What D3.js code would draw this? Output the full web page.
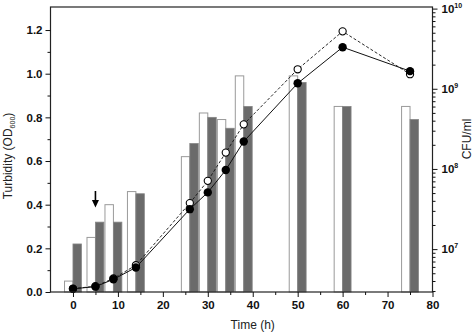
<!doctype html>
<html>
  <head>
    <meta charset="UTF-8"/>
    <title>Growth curve</title>
    <script src="https://d3js.org/d3.v7.min.js"></script>
    <style>
      body { margin: 0; padding: 0; background: #fff; }
      svg { display: block; }
      .tick text { font-family: "Liberation Sans", Arial, sans-serif; font-weight: bold; font-size: 11.5px; fill: #111; }
      .title { font-family: "Liberation Sans", Arial, sans-serif; font-size: 12px; fill: #222; }
    </style>
  </head>
  <body>
    <script>
      // sampling times (h)
      const times = [0, 5, 9, 14, 26, 30, 34, 38, 50, 60, 75];
      // turbidity OD600, open and shaded bars
      const odOpen   = [0.05, 0.25, 0.40, 0.46, 0.62, 0.82, 0.79, 0.99, 0.99, 0.85, 0.85];
      const odShaded = [0.22, 0.32, 0.32, 0.45, 0.68, 0.80, 0.75, 0.85, 0.96, 0.85, 0.79];
      // viable counts CFU/ml
      const cfuFilled = [3.2e6, 3.4e6, 4.2e6, 5.9e6, 3.15e7, 5.1e7, 9.7e7, 2.2e8, 1.17e9, 3.3e9, 1.66e9];
      const cfuOpen   = [3.2e6, 3.45e6, 4.3e6, 6.3e6, 3.75e7, 7.1e7, 1.6e8, 3.6e8, 1.75e9, 5.2e9, 1.52e9];
      const odTicks = [0, 0.2, 0.4, 0.6, 0.8, 1.0, 1.2];
      const odMinor = [0.1, 0.3, 0.5, 0.7, 0.9, 1.1];
      const timeTicks = [0, 10, 20, 30, 40, 50, 60, 70, 80];
      const timeMinor = [5, 15, 25, 35, 45, 55, 65, 75];
      const cfuTicks = [1e7, 1e8, 1e9, 1e10];
      const arrowAt = 5;

      const W = 474, H = 333;
      const L = 50.5, R = 432.5, T = 7, B = 292;
      const svg = d3.select("body").append("svg").attr("width", W).attr("height", H);

      const x = d3.scaleLinear().domain([-5, 80]).range([L, R]);
      const y = d3.scaleLinear().domain([0, 1.3055]).range([B, T]);
      const yR = d3.scaleLog().domain([Math.pow(10, 6.465), Math.pow(10, 10.02)]).range([B, T]);

      const bw = 1.88;
      const bars = svg.append("g");
      bars.selectAll(".open").data(times).join("rect")
        .attr("x", (d) => x(d - bw))
        .attr("width", x(bw) - x(0))
        .attr("y", (d, i) => y(odOpen[i]))
        .attr("height", (d, i) => B - y(odOpen[i]))
        .attr("fill", "#fff").attr("stroke", "#9a9a9a").attr("stroke-width", 1);
      bars.selectAll(".shaded").data(times).join("rect")
        .attr("x", (d) => x(d))
        .attr("width", x(bw) - x(0))
        .attr("y", (d, i) => y(odShaded[i]))
        .attr("height", (d, i) => B - y(odShaded[i]))
        .attr("fill", "#6b6b6b").attr("stroke", "#858585").attr("stroke-width", 0.8);

      // CFU curves
      const line = (vals) => d3.line().x((d, i) => x(times[i])).y((d) => yR(d))(vals);
      svg.append("path").attr("d", line(cfuOpen))
        .attr("fill", "none").attr("stroke", "#111").attr("stroke-width", 0.9).attr("stroke-dasharray", "3,2");
      svg.append("path").attr("d", line(cfuFilled))
        .attr("fill", "none").attr("stroke", "#111").attr("stroke-width", 1);
      svg.append("g").selectAll("circle").data(cfuOpen).join("circle")
        .attr("cx", (d, i) => x(times[i])).attr("cy", (d) => yR(d)).attr("r", 3.6)
        .attr("fill", "#fff").attr("stroke", "#000").attr("stroke-width", 1.1);
      svg.append("g").selectAll("circle").data(cfuFilled).join("circle")
        .attr("cx", (d, i) => x(times[i])).attr("cy", (d) => yR(d)).attr("r", 4.2)
        .attr("fill", "#000");

      // arrow marking the addition time
      const ax = x(arrowAt);
      svg.append("line").attr("x1", ax).attr("x2", ax).attr("y1", 191).attr("y2", 202)
        .attr("stroke", "#000").attr("stroke-width", 1.6);
      svg.append("path").attr("d", `M${ax - 3.5},200 L${ax + 3.5},200 L${ax},207.5 Z`).attr("fill", "#000");

      // frame
      svg.append("rect").attr("x", L).attr("y", T).attr("width", R - L).attr("height", B - T)
        .attr("fill", "none").attr("stroke", "#222").attr("stroke-width", 1.2);

      // left axis
      svg.append("g").attr("transform", `translate(${L},0)`)
        .call(d3.axisLeft(y).tickValues(odTicks).tickSize(5).tickPadding(3).tickFormat(d3.format(".1f")));
      svg.append("g").attr("transform", `translate(${L},0)`)
        .call(d3.axisLeft(y).tickValues(odMinor).tickSize(3).tickFormat(""));

      // bottom axis
      svg.append("g").attr("transform", `translate(0,${B})`)
        .call(d3.axisBottom(x).tickValues(timeTicks).tickSize(5).tickPadding(4).tickFormat(d3.format("d")));
      svg.append("g").attr("transform", `translate(0,${B})`)
        .call(d3.axisBottom(x).tickValues(timeMinor).tickSize(3).tickFormat(""));

      // right log axis
      const minor = [];
      [6, 7, 8, 9].forEach((e) => {
        for (let m = 2; m <= 9; m++) {
          const v = m * Math.pow(10, e);
          if (v >= yR.domain()[0] && v <= yR.domain()[1]) minor.push(v);
        }
      });
      svg.append("g").attr("transform", `translate(${R},0)`)
        .call(d3.axisRight(yR).tickValues(minor).tickSize(3).tickFormat(""));
      const gr = svg.append("g").attr("transform", `translate(${R},0)`);
      gr.call(d3.axisRight(yR).tickValues(cfuTicks).tickSize(5).tickFormat(""));
      const lbl = gr.append("g").selectAll("text").data(cfuTicks).join("text")
        .attr("x", 9).attr("y", (d) => yR(d) + 4)
        .attr("font-family", "Liberation Sans, Arial, sans-serif").attr("font-weight", "bold")
        .attr("font-size", "11.5px").attr("fill", "#111");
      lbl.append("tspan").text("10");
      lbl.append("tspan").attr("dy", -5).attr("font-size", "7px").text((d) => Math.round(Math.log10(d)));

      svg.selectAll(".domain").remove();
      svg.selectAll(".tick line").attr("stroke", "#111").attr("stroke-width", 1);

      // axis titles
      svg.append("text").attr("class", "title").attr("text-anchor", "middle")
        .attr("x", x(40)).attr("y", 329).text("Time (h)");
      const yl = svg.append("text").attr("class", "title").attr("text-anchor", "middle")
        .attr("transform", "translate(12,156) rotate(-90)");
      yl.append("tspan").text("Turbidity (OD");
      yl.append("tspan").attr("dy", 3).attr("font-size", "7px").text("600");
      yl.append("tspan").attr("dy", -3).text(")");
      svg.append("text").attr("class", "title").attr("text-anchor", "middle")
        .attr("transform", "translate(471,139) rotate(-90)").text("CFU/ml");
    </script>
  </body>
</html>
